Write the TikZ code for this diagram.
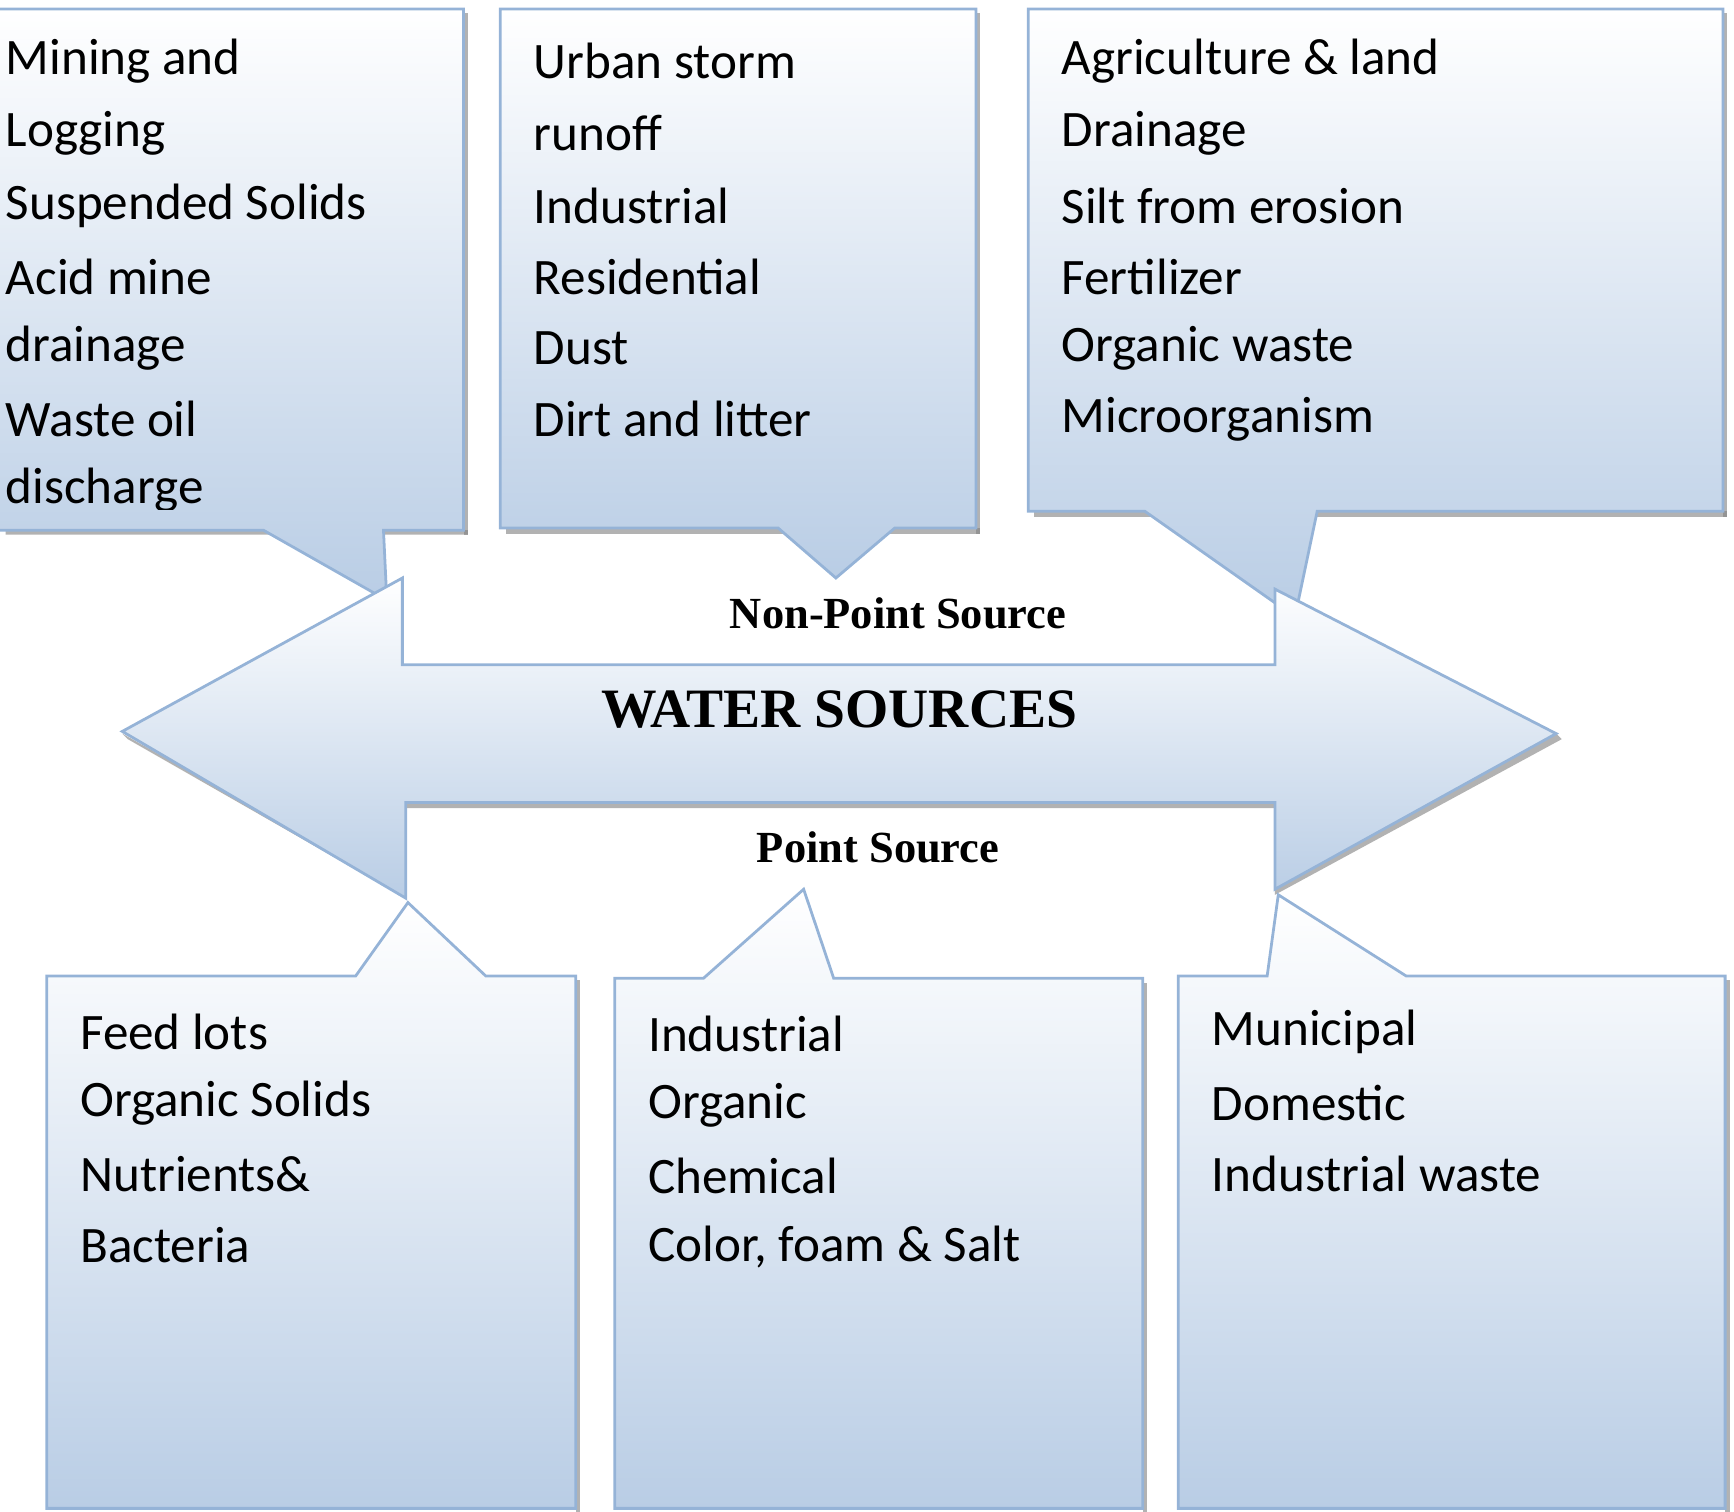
\documentclass[tikz,border=0pt]{standalone}
\usepackage{fontspec}
\setmainfont{Carlito}
\newfontfamily\tnr{Liberation Serif}
\definecolor{bdr}{HTML}{95B3D7}
\definecolor{blu}{HTML}{B9CDE5}
\definecolor{shd}{HTML}{7F7F7F}
\tikzset{x=1pt,y=-1pt,
 callout/.style={draw=bdr,line width=2.5pt,top color=white,bottom color=blu},
 shadowp/.style={fill=shd,opacity=0.6},
 item/.style={anchor=west,font=\fontsize{46}{50}\selectfont,inner sep=0pt},
 lbl/.style={font=\tnr\bfseries\fontsize{40}{44}\selectfont,inner sep=0pt}}
\begin{document}
\begin{tikzpicture}
\useasboundingbox (0,0) rectangle (1560,1360);
% shadows
\fill[shadowp] (5,477) -- (237,477) -- (348,540) -- (345,477) -- (421,477) -- (421,481) -- (5,481) -- cycle;
\fill[shadowp] (417,12) rectangle (421,481);
\fill[shadowp] (878,12) rectangle (882,480);
\fill[shadowp] (455,475) rectangle (882,480);
\fill[shadowp] (1550,12) rectangle (1554,465);
\fill[shadowp] (930,460) rectangle (1554,465);
\fill[shadowp] (115,665) -- (365,808) -- (365,727) -- (1147,727) -- (1147,805) -- (1405,665) -- (1400,660) -- (1147,800) -- (1147,722) -- (365,722) -- (365,803) -- (110,660) -- cycle;
\fill[shadowp] (518,882) rectangle (522,1360);
\fill[shadowp] (1028,884) rectangle (1032,1360);
\fill[shadowp] (1552,882) rectangle (1556,1360);
% top callouts
\path[callout] (-5,8) -- (417,8) -- (417,477) -- (345,477) -- (348,540) -- (237,477) -- (-5,477) -- cycle;
\path[callout] (450,8) -- (878,8) -- (878,475) -- (805,475) -- (752,520) -- (700,475) -- (450,475) -- cycle;
\path[callout] (925,8) -- (1550,8) -- (1550,460) -- (1185,460) -- (1165,555) -- (1030,460) -- (925,460) -- cycle;
% central arrow
\path[callout] (110,658) -- (362,520) -- (362,598) -- (1147,598) -- (1147,530) -- (1400,660) -- (1147,800) -- (1147,722) -- (365,722) -- (365,808) -- cycle;
% bottom callouts
\path[draw=bdr,line width=2.5pt,top color=white,bottom color=blu] (42,878) -- (320,878) -- (367,812) -- (437,878) -- (518,878) -- (518,1357) -- (42,1357) -- cycle;
\path[draw=bdr,line width=2.5pt,top color=white,bottom color=blu] (553,880) -- (633,880) -- (723,800) -- (750,880) -- (1028,880) -- (1028,1357) -- (553,1357) -- cycle;
\path[draw=bdr,line width=2.5pt,top color=white,bottom color=blu] (1060,878) -- (1140,878) -- (1150,805) -- (1265,878) -- (1552,878) -- (1552,1357) -- (1060,1357) -- cycle;
% texts top-left
\begin{scope}
\clip (0,8) rectangle (417,458);
\node[item] (a1) at (5,55) {Mining and};
\node[item] (a2) at (5,120) {Logging};
\node[item] (a3) at (5,185) {Suspended Solids};
\node[item] (a4) at (5,249) {Acid mine};
\node[item] (a5) at (5,313) {drainage};
\node[item] (a6) at (5,377) {Waste oil};
\node[item] (a7) at (5,441) {discharge};
\end{scope}
\node[item] (b1) at (480,55) {Urban storm};
\node[item] (b2) at (480,120) {runoff};
\node[item] (b3) at (480,185) {Industrial};
\node[item] (b4) at (480,249) {Residential};
\node[item] (b5) at (480,313) {Dust};
\node[item] (b6) at (480,377) {Dirt and litter};
\node[item] (c1) at (955,55) {Agriculture \& land};
\node[item] (c2) at (955,120) {Drainage};
\node[item] (c3) at (955,185) {Silt from erosion};
\node[item] (c4) at (955,249) {Fertilizer};
\node[item] (c5) at (955,313) {Organic waste};
\node[item] (c6) at (955,377) {Microorganism};
\node[lbl] (np) at (808,552) {Non-Point Source};
\node[lbl,font=\tnr\bfseries\fontsize{50}{54}\selectfont] (ws) at (755,638) {WATER SOURCES};
\node[lbl] (ps) at (790,762) {Point Source};
\node[item] (d1) at (72,928) {Feed lots};
\node[item] (d2) at (72,992) {Organic Solids};
\node[item] (d3) at (72,1056) {Nutrients\&};
\node[item] (d4) at (72,1120) {Bacteria};
\node[item] (e1) at (583,930) {Industrial};
\node[item] (e2) at (583,994) {Organic};
\node[item] (e3) at (583,1058) {Chemical};
\node[item] (e4) at (583,1122) {Color, foam \& Salt};
\node[item] (f1) at (1090,928) {Municipal};
\node[item] (f2) at (1090,992) {Domestic};
\node[item] (f3) at (1090,1056) {Industrial waste};
\end{tikzpicture}
\end{document}
